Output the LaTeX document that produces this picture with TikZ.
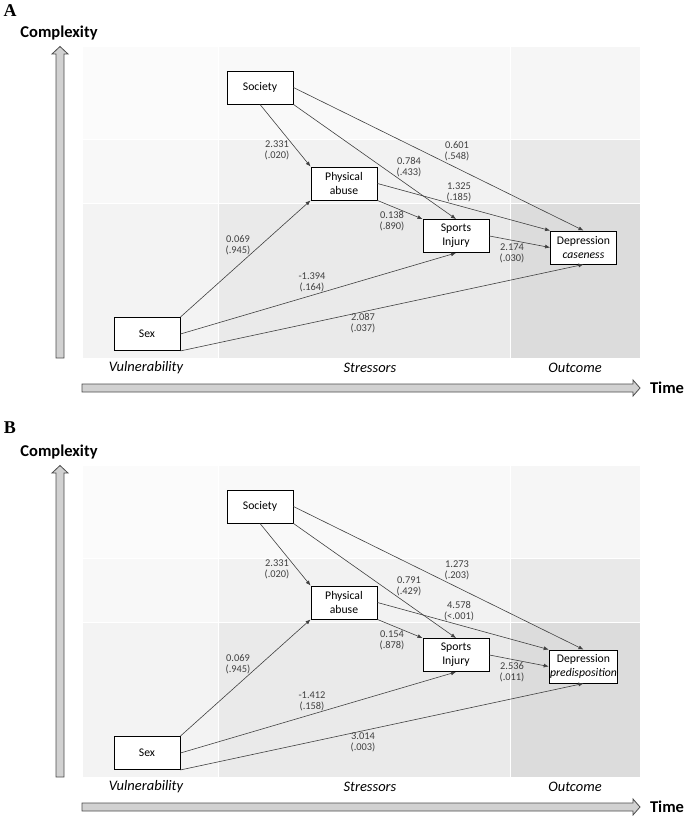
\documentclass[tikz,border=0pt]{standalone}
\usepackage{fontspec}
\setmainfont{Carlito}
\newfontfamily\panelfont{Liberation Serif}
\usepackage{xcolor}
\usetikzlibrary{arrows.meta,positioning,calc}

\definecolor{vulA}{HTML}{FBFBFB}
\definecolor{vulB}{HTML}{F8F8F8}
\definecolor{vulC}{HTML}{F3F3F3}
\definecolor{strA}{HTML}{F9F9F9}
\definecolor{strB}{HTML}{F2F2F2}
\definecolor{strC}{HTML}{EAEAEA}
\definecolor{outA}{HTML}{F6F6F6}
\definecolor{outB}{HTML}{E9E9E9}
\definecolor{outC}{HTML}{DCDCDC}
\definecolor{pathgray}{HTML}{404040}

\begin{document}
\begin{tikzpicture}[
  x=1pt, y=-1pt,
  box/.style={draw, line width=0.9pt, fill=white, minimum width=66pt,
              minimum height=33pt, inner xsep=1pt, align=center,
              font=\fontsize{11.7}{14}\selectfont},
  coef/.style={text=pathgray, align=center, inner sep=0pt,
               font=\fontsize{10.4}{11}\selectfont},
  arrow/.style={-{Latex[length=5pt,width=4pt]}, draw=pathgray, line width=0.6pt},
  bigarrow/.style={fill=black!18, draw=black!70, line width=0.8pt},
  axis/.style={font=\fontsize{16.5}{18}\selectfont\bfseries},
  phase/.style={font=\fontsize{14.5}{16}\selectfont\itshape},
  panel/.style={font=\fontsize{18}{20}\selectfont\panelfont\bfseries}
]
\useasboundingbox (0,0) rectangle (685,816);

% panel A
\begin{scope}
\foreach \xa/\xb/\sh in {82/218/vul, 218/510/str, 510/640/out}
  \foreach \ya/\yb/\lv in {46/139/A, 139/203/B, 203/358/C}
    \fill[fill=\sh\lv, draw=white, line width=0.5pt] (\xa,\ya) rectangle (\xb,\yb);

\draw[bigarrow] (56,358) -- (56,54) -- (52,54) -- (60,46.5) -- (68,54)
  -- (64,54) -- (64,358) -- cycle;
\draw[bigarrow] (82,384) -- (633,384) -- (633,380) -- (640,388) -- (633,396)
  -- (633,392) -- (82,392) -- cycle;

\node[panel] (tagA) at (10,11) {A};
\node[axis] (complexA) at (59,33) {Complexity};
\node[axis] (timeA) at (667,388) {Time};
\node[phase] (vulnA) at (146,368) {Vulnerability};
\node[phase] (stressA) at (370,368) {Stressors};
\node[phase] (outcA) at (575,368) {Outcome};

\node[box] (socA) at (260,87.5) {Society};
\node[box] (physA) at (344,183.5) {Physical\\abuse};
\node[box] (injA) at (456,236) {Sports\\Injury};
\node[box] (depA) at (583.5,247.5) {Depression\\\textit{caseness}};
\node[box] (sexA) at (147,334) {Sex};

\draw[arrow] (socA.south) -- (physA.north west);
\draw[arrow] (socA.south east) -- (injA.north);
\draw[arrow] (socA.east) -- (depA.north);
\draw[arrow] (physA.south east) -- (injA.north west);
\draw[arrow] (physA.east) -- (depA.north west);
\draw[arrow] (injA.east) -- (depA.west);
\draw[arrow] (sexA.north east) -- (physA.south west);
\draw[arrow] (sexA.east) -- (injA.south);
\draw[arrow] (sexA.south east) -- (depA.south);

\node[coef] (sp1A) at (277,150) {2.331\\(.020)};
\node[coef] (si1A) at (409,167) {0.784\\(.433)};
\node[coef] (sd1A) at (457,151) {0.601\\(.548)};
\node[coef] (pd1A) at (459,192) {1.325\\(.185)};
\node[coef] (pi1A) at (392,221) {0.138\\(.890)};
\node[coef] (id1A) at (512,253) {2.174\\(.030)};
\node[coef] (xp1A) at (238,245) {0.069\\(.945)};
\node[coef] (xi1A) at (312,282) {-1.394\\(.164)};
\node[coef] (xd1A) at (363,323) {2.087\\(.037)};
\end{scope}

% panel B
\begin{scope}[yshift=-419pt]
\foreach \xa/\xb/\sh in {82/218/vul, 218/510/str, 510/640/out}
  \foreach \ya/\yb/\lv in {46/139/A, 139/203/B, 203/358/C}
    \fill[fill=\sh\lv, draw=white, line width=0.5pt] (\xa,\ya) rectangle (\xb,\yb);

\draw[bigarrow] (56,358) -- (56,54) -- (52,54) -- (60,46.5) -- (68,54)
  -- (64,54) -- (64,358) -- cycle;
\draw[bigarrow] (82,384) -- (633,384) -- (633,380) -- (640,388) -- (633,396)
  -- (633,392) -- (82,392) -- cycle;

\node[panel] (tagB) at (10,9) {B};
\node[axis] (complexB) at (59,33) {Complexity};
\node[axis] (timeB) at (667,388) {Time};
\node[phase] (vulnB) at (146,368) {Vulnerability};
\node[phase] (stressB) at (370,368) {Stressors};
\node[phase] (outcB) at (575,368) {Outcome};

\node[box] (socB) at (260,87.5) {Society};
\node[box] (physB) at (344,183.5) {Physical\\abuse};
\node[box] (injB) at (456,236) {Sports\\Injury};
\node[box] (depB) at (583.5,247.5) {Depression\\\textit{predisposition}};
\node[box] (sexB) at (147,334) {Sex};

\draw[arrow] (socB.south) -- (physB.north west);
\draw[arrow] (socB.south east) -- (injB.north);
\draw[arrow] (socB.east) -- (depB.north);
\draw[arrow] (physB.south east) -- (injB.north west);
\draw[arrow] (physB.east) -- (depB.north west);
\draw[arrow] (injB.east) -- (depB.west);
\draw[arrow] (sexB.north east) -- (physB.south west);
\draw[arrow] (sexB.east) -- (injB.south);
\draw[arrow] (sexB.south east) -- (depB.south);

\node[coef] (sp1B) at (277,150) {2.331\\(.020)};
\node[coef] (si1B) at (409,167) {0.791\\(.429)};
\node[coef] (sd1B) at (457,151) {1.273\\(.203)};
\node[coef] (pd1B) at (459,192) {4.578\\(<.001)};
\node[coef] (pi1B) at (392,221) {0.154\\(.878)};
\node[coef] (id1B) at (512,253) {2.536\\(.011)};
\node[coef] (xp1B) at (238,245) {0.069\\(.945)};
\node[coef] (xi1B) at (312,282) {-1.412\\(.158)};
\node[coef] (xd1B) at (363,323) {3.014\\(.003)};
\end{scope}
\end{tikzpicture}
\end{document}
